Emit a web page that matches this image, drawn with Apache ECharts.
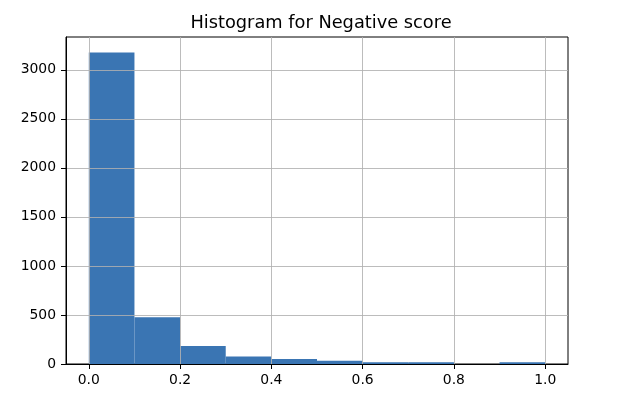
<!DOCTYPE html>
<html lang="en">
<head>
    <meta charset="UTF-8"/>
    <title>Histogram for Negative score</title>
    <script src="https://cdn.jsdelivr.net/npm/echarts@6/dist/echarts.min.js"></script>
    <style>
        html, body { margin: 0; padding: 0; background: #fff; }
    </style>
</head>
<body>
<div id="main" style="width: 636px; height: 402px;"></div>
<script type="text/javascript">
    // histogram bins (left / right edges) and counts
    var binStart = [0.0, 0.1, 0.2, 0.3, 0.4, 0.5, 0.6, 0.7, 0.8, 0.9];
    var binEnd   = [0.1, 0.2, 0.3, 0.4, 0.5, 0.6, 0.7, 0.8, 0.9, 1.0];
    var counts   = [3175, 477, 184, 77, 50, 33, 19, 18, 0, 18];

    var data = [];
    for (var i = 0; i < counts.length; i++) {
        data.push([binStart[i], binEnd[i], counts[i]]);
    }

    var font = 'DejaVu Sans';
    var gridLine = { color: 'rgba(176,176,176,0.85)', width: 1 };
    var myChart = echarts.init(document.getElementById('main'));

    option = {
        backgroundColor: '#ffffff',
        animation: false,
        title: {
            text: 'Histogram for Negative score',
            left: 316,
            top: 9,
            textAlign: 'center',
            textStyle: { fontFamily: font, fontSize: 17.8, fontWeight: 'normal', color: '#000' }
        },
        grid: {
            left: 66, right: 68, top: 37, bottom: 38,
            show: true, borderColor: '#000', borderWidth: 1, backgroundColor: 'transparent'
        },
        xAxis: {
            type: 'value',
            min: -0.05,
            max: 1.05,
            splitNumber: 5,
            z: 3,
            axisLine: { show: true, onZero: false, lineStyle: { color: '#000', width: 1 } },
            axisTick: { show: true, length: 5, lineStyle: { color: '#000' } },
            axisLabel: {
                showMinLabel: false, showMaxLabel: false,
                margin: 9, color: '#000', fontFamily: font, fontSize: 13.9,
                formatter: function (v) { return v.toFixed(1); }
            },
            splitLine: { show: true, showMinLine: false, showMaxLine: false, lineStyle: gridLine }
        },
        yAxis: {
            type: 'value',
            min: 0,
            max: 3334,
            interval: 500,
            z: 3,
            axisLine: { show: true, onZero: false, lineStyle: { color: '#000', width: 1 } },
            axisTick: { show: true, length: 5, lineStyle: { color: '#000' } },
            axisLabel: {
                showMaxLabel: false,
                margin: 10, color: '#000', fontFamily: font, fontSize: 13.9,
                formatter: function (v) { return String(v); }
            },
            splitLine: { show: true, showMinLine: false, showMaxLine: false, lineStyle: gridLine }
        },
        series: [{
            type: 'custom',
            data: data,
            encode: { x: [0, 1], y: 2 },
            renderItem: function (params, api) {
                var p0 = api.coord([api.value(0), api.value(2)]);
                var p1 = api.coord([api.value(1), 0]);
                return {
                    type: 'rect',
                    shape: { x: p0[0], y: p0[1], width: p1[0] - p0[0], height: p1[1] - p0[1] },
                    style: { fill: '#3a75b3' }
                };
            }
        }]
    };

    myChart.setOption(option);
</script>
</body>
</html>
